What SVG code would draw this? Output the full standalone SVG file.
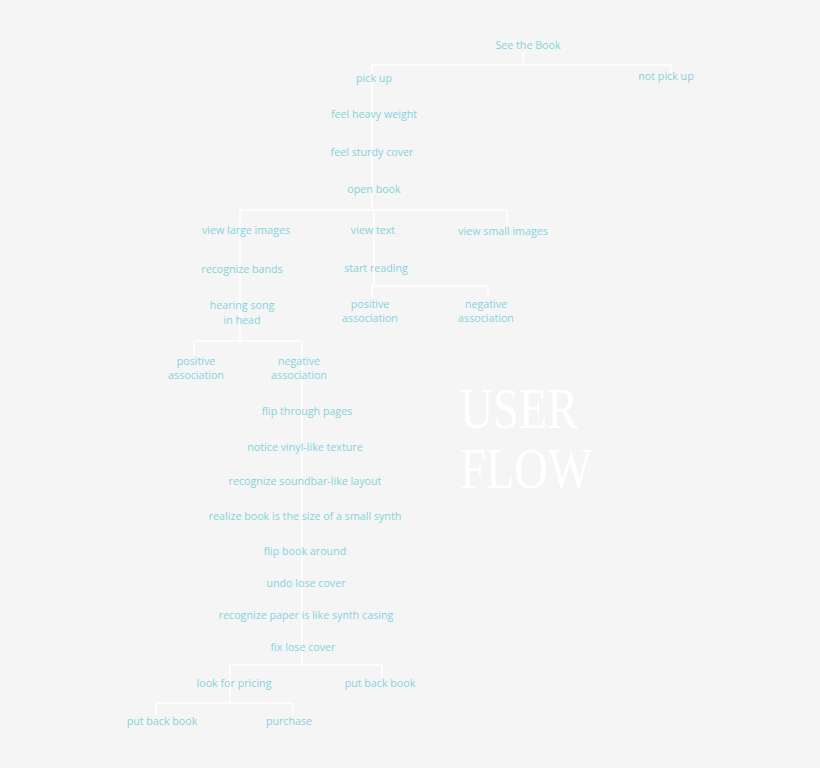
<svg xmlns="http://www.w3.org/2000/svg" width="820" height="768" viewBox="0 0 820 768">
<style>
.bg{fill:#f5f5f5}
.c{fill:none;stroke:#ffffff;stroke-width:1.5}
.t{font-family:"Open Sans","Liberation Sans",sans-serif;font-size:10.7px;fill:#86d2de;text-anchor:middle}
.title{font-family:"Liberation Serif","DejaVu Serif",serif;font-size:56px;fill:#ffffff}
</style>
<rect class="bg" x="0" y="0" width="820" height="768"/>
<g id="connectors">
<path class="c" d="M523 52V65M372 65H671V72M372 65V210"/>
<path class="c" d="M240 210H507V225M240 210V341M374 210V286"/>
<path class="c" d="M194 341H302M194 341V355M302 341V665"/>
<path class="c" d="M372 286H488V297M372 286V297"/>
<path class="c" d="M230 665H382V677M230 665V703"/>
<path class="c" d="M156 703H293M156 703V715M293 703V715"/>
</g>
<g id="n-see"><text class="t" x="528" y="49">See the Book</text></g>
<g id="n-pickup"><text class="t" x="374" y="82">pick up</text></g>
<g id="n-notpickup"><text class="t" x="666" y="80">not pick up</text></g>
<g id="n-heavy"><text class="t" x="374" y="118">feel heavy weight</text></g>
<g id="n-sturdy"><text class="t" x="372" y="156">feel sturdy cover</text></g>
<g id="n-open"><text class="t" x="374" y="193">open book</text></g>
<g id="n-large"><text class="t" x="246" y="234">view large images</text></g>
<g id="n-text"><text class="t" x="373" y="234">view text</text></g>
<g id="n-small"><text class="t" x="503" y="235">view small images</text></g>
<g id="n-bands"><text class="t" x="242" y="273">recognize bands</text></g>
<g id="n-reading"><text class="t" x="376" y="272">start reading</text></g>
<g id="n-song"><text class="t" x="242" y="309">hearing song</text><text class="t" x="242" y="324">in head</text></g>
<g id="n-pos2"><text class="t" x="370" y="308">positive</text><text class="t" x="370" y="322">association</text></g>
<g id="n-neg2"><text class="t" x="486" y="308">negative</text><text class="t" x="486" y="322">association</text></g>
<g id="n-pos1"><text class="t" x="196" y="365">positive</text><text class="t" x="196" y="379">association</text></g>
<g id="n-neg1"><text class="t" x="299" y="365">negative</text><text class="t" x="299" y="379">association</text></g>
<g id="n-flip"><text class="t" x="307" y="415">flip through pages</text></g>
<g id="n-vinyl"><text class="t" x="305" y="451">notice vinyl-like texture</text></g>
<g id="n-soundbar"><text class="t" x="305" y="485">recognize soundbar-like layout</text></g>
<g id="n-synth"><text class="t" x="305" y="520">realize book is the size of a small synth</text></g>
<g id="n-around"><text class="t" x="305" y="555">flip book around</text></g>
<g id="n-undo"><text class="t" x="306" y="587">undo lose cover</text></g>
<g id="n-paper"><text class="t" x="306" y="619">recognize paper is like synth casing</text></g>
<g id="n-fix"><text class="t" x="303" y="651">fix lose cover</text></g>
<g id="n-pricing"><text class="t" x="234" y="687">look for pricing</text></g>
<g id="n-putback1"><text class="t" x="380" y="687">put back book</text></g>
<g id="n-putback2"><text class="t" x="162" y="725">put back book</text></g>
<g id="n-purchase"><text class="t" x="289" y="725">purchase</text></g>
<g id="title">
<text class="title" x="460" y="428" textLength="118" lengthAdjust="spacingAndGlyphs">USER</text>
<text class="title" x="460" y="488" textLength="132" lengthAdjust="spacingAndGlyphs">FLOW</text>
</g>
</svg>
